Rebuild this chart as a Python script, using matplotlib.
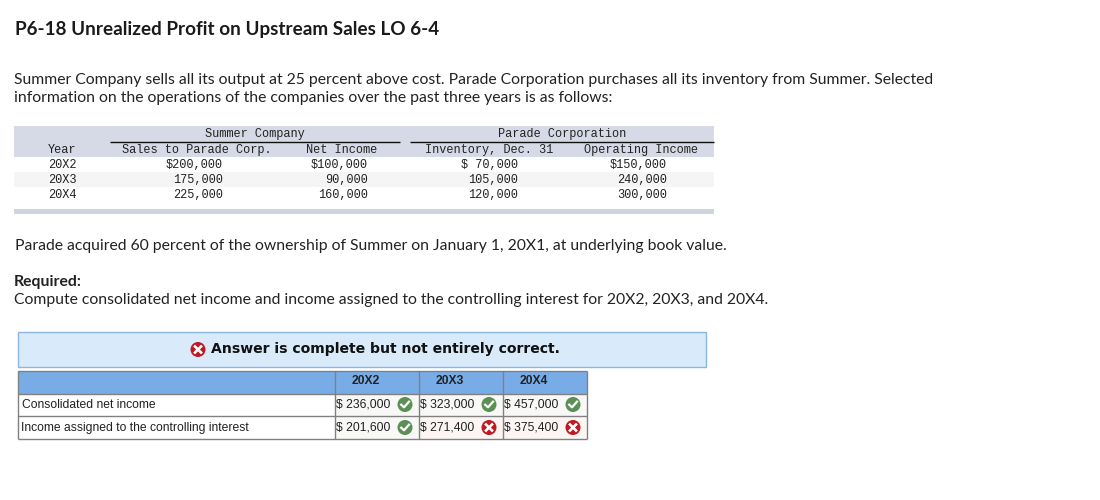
import matplotlib
matplotlib.use("Agg")
import matplotlib.pyplot as plt
from matplotlib.patches import Rectangle, Circle
from matplotlib.lines import Line2D

title = "P6-18 Unrealized Profit on Upstream Sales LO 6-4"
intro = ["Summer Company sells all its output at 25 percent above cost. Parade Corporation purchases all its inventory from Summer. Selected",
         "information on the operations of the companies over the past three years is as follows:"]
para = "Parade acquired 60 percent of the ownership of Summer on January 1, 20X1, at underlying book value."
req_head = "Required:"
req_body = "Compute consolidated net income and income assigned to the controlling interest for 20X2, 20X3, and 20X4."
banner = "Answer is complete but not entirely correct."

years = ["20X2", "20X3", "20X4"]
sales = ["$200,000", "175,000", "225,000"]
net_income = ["$100,000", "90,000", "160,000"]
inventory = ["$ 70,000", "105,000", "120,000"]
op_income = ["$150,000", "240,000", "300,000"]

ans_rows = ["Consolidated net income", "Income assigned to the controlling interest"]
ans_net = ["$ 236,000", "$ 323,000", "$ 457,000"]
ans_ctrl = ["$ 201,600", "$ 271,400", "$ 375,400"]
ok_net = [True, True, True]
ok_ctrl = [True, False, False]

BODY = "Lato"
MONO = "Liberation Mono"
INK = "#222222"

fig = plt.figure(figsize=(11, 5), dpi=100, facecolor="white")
ax = fig.add_axes([0, 0, 1, 1])
ax.set_xlim(0, 1100)
ax.set_ylim(500, 0)
ax.axis("off")


def rect(x, y, w, h, fc, ec="none", lw=0.0, z=1):
    ax.add_patch(Rectangle((x, y), w, h, facecolor=fc, edgecolor=ec, linewidth=lw, zorder=z))


def hline(x0, x1, y, color, lw=1.0, z=3):
    ax.add_line(Line2D([x0, x1], [y, y], color=color, linewidth=lw, zorder=z, solid_capstyle="butt"))


def vline(x, y0, y1, color, lw=1.0, z=3):
    ax.add_line(Line2D([x, x], [y0, y1], color=color, linewidth=lw, zorder=z, solid_capstyle="butt"))


def txt(x, y, s, size, family=BODY, weight="normal", ha="left", color=INK):
    ax.text(x, y, s, fontsize=size, family=family, weight=weight, ha=ha, va="center", color=color, zorder=5)


def badge(cx, cy, ok, r=7.5):
    ax.add_patch(Circle((cx, cy), r, facecolor="#5b8f56" if ok else "#bd1a22", edgecolor="none", zorder=5))
    if ok:
        xs, ys = [cx - 3.8, cx - 1.0, cx + 4.0], [cy + 0.2, cy + 2.8, cy - 2.8]
        ax.add_line(Line2D(xs, ys, color="white", linewidth=1.6, zorder=6))
    else:
        for s in (1, -1):
            ax.add_line(Line2D([cx - 3, cx + 3], [cy - 3 * s, cy + 3 * s], color="white", linewidth=1.9, zorder=6))


# Heading and text
txt(15, 29.5, title, 13.6, weight="bold", color="#1a1a1a")
txt(14, 80, intro[0], 11.35)
txt(14, 98, intro[1], 11.35)
txt(15, 246, para, 11.35)
txt(14, 282, req_head, 11.35, weight="bold")
txt(14, 300, req_body, 11.35)

# Data table
rect(14, 126, 700, 31, "#d6dae6")
rect(14, 172, 700, 15, "#f5f5f5")
rect(14, 209, 700, 5, "#d0d4df")
hline(110, 400, 141.5, "#111111", 1.0)
hline(410, 714, 141.5, "#111111", 1.0)
MS = 8.55
txt(255, 134, "Summer Company", MS, MONO, ha="center")
txt(562, 134, "Parade Corporation", MS, MONO, ha="center")
txt(62, 150, "Year", MS, MONO, ha="center")
txt(197, 150, "Sales to Parade Corp.", MS, MONO, ha="center")
txt(342, 150, "Net Income", MS, MONO, ha="center")
txt(489.5, 150, "Inventory, Dec. 31", MS, MONO, ha="center")
txt(641, 150, "Operating Income", MS, MONO, ha="center")
for i, yr in enumerate(years):
    y = 165 + i * 15
    txt(62, y, yr, MS, MONO, ha="center")
    txt(223, y, sales[i], MS, MONO, ha="right")
    txt(368, y, net_income[i], MS, MONO, ha="right")
    txt(518, y, inventory[i], MS, MONO, ha="right")
    txt(667, y, op_income[i], MS, MONO, ha="right")

# Banner
rect(17.5, 331.5, 688, 35, "#d9ebfa", ec="#8db4e2", lw=1.0)
badge(198, 349.5, False)
txt(211, 349.5, banner, 10.1, "DejaVu Sans", weight="bold", color="#111111")

# Answer table
GR = "#808080"
L, C1, C2, C3, R = 17.5, 334.5, 418.5, 502.5, 586.5
T, H, M, B = 370.5, 393.5, 416, 439
rect(L, T, R - L, H - T, "#78ace6")
rect(C1, H, R - C1, B - H, "#f8f9f6")
rect(C2, M, R - C2, B - M, "#fdf5f3")
for y in (T, H, M, B):
    hline(L, R, y, GR)
for x in (L, C1, C2, C3, R):
    vline(x, T, B, GR)
AS = 8.75
AF = "Liberation Sans"
txt(22, 404.5, ans_rows[0], AS, AF)
txt(21, 427.5, ans_rows[1], AS, AF)
for i, yr in enumerate(years):
    left = (C1, C2, C3)[i]
    txt(left + 31.5, 381.5, yr, AS, AF, weight="bold", ha="center")
    txt(left + 2, 404.5, ans_net[i], AS, AF)
    txt(left + 2, 427.5, ans_ctrl[i], AS, AF)
    badge(left + 70.5, 404.5, ok_net[i])
    badge(left + 70.5, 427.5, ok_ctrl[i])

fig.savefig("out.png", dpi=100, facecolor="white")
